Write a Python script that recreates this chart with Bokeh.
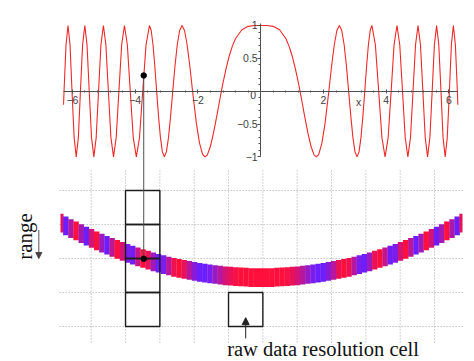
import numpy as np
from bokeh.plotting import figure
from bokeh.models import Range1d, LinearAxis, FixedTicker, ColumnDataSource, Arrow, NormalHead
from bokeh.transform import linear_cmap
from bokeh.core.properties import value
from bokeh.embed import file_html
from bokeh.resources import INLINE

# ---------------- data ----------------
# signal curve, left half (x < 0)
curve_left_x = [-6.283, -6.267, -6.204, -6.140, -6.076, -6.013, -5.945, -5.879, -5.811, -5.745,
                -5.675, -5.605, -5.535, -5.464, -5.391, -5.317, -5.243, -5.168, -5.091, -5.013,
                -4.934, -4.854, -4.773, -4.690, -4.605, -4.519, -4.431, -4.342, -4.250, -4.157,
                -4.061, -3.963, -3.863, -3.760, -3.654, -3.545, -3.489, -3.432, -3.375, -3.316,
                -3.256, -3.195, -3.133, -3.070, -3.005, -2.939, -2.872, -2.803, -2.732, -2.659,
                -2.584, -2.507, -2.427, -2.345, -2.259, -2.171, -2.05, -1.95, -1.85, -1.773,
                -1.7, -1.6, -1.5, -1.4, -1.3, -1.253, -1.2, -1.1, -1.0, -0.9,
                -0.8, -0.6, -0.4, -0.2]
curve_left_y = [-0.207, 0, 0.707, 1, 0.707, 0, -0.707, -1, -0.707, 0,
                0.707, 1, 0.707, 0, -0.707, -1, -0.707, 0, 0.707, 1,
                0.707, 0, -0.707, -1, -0.707, 0, 0.707, 1, 0.707, 0,
                -0.707, -1, -0.707, 0, 0.707, 1, 0.924, 0.707, 0.383, 0,
                -0.383, -0.707, -0.924, -1, -0.924, -0.707, -0.383, 0, 0.383, 0.707,
                0.924, 1, 0.924, 0.707, 0.383, 0, -0.490, -0.791, -0.962, -1,
                -0.969, -0.835, -0.628, -0.380, -0.119, 0, 0.130, 0.351, 0.540, 0.690,
                0.802, 0.936, 0.987, 0.999]
# signal curve, right half (x >= 0)
curve_right_x = [0, 0.2, 0.4, 0.6, 0.8, 0.9, 1.0, 1.1, 1.2, 1.253,
                 1.3, 1.4, 1.5, 1.6, 1.7, 1.773, 1.85, 1.95, 2.05, 2.171,
                 2.259, 2.345, 2.427, 2.507, 2.584, 2.659, 2.732, 2.803, 2.872, 2.939,
                 3.005, 3.070, 3.133, 3.195, 3.256, 3.316, 3.375, 3.432, 3.489, 3.545,
                 3.654, 3.760, 3.863, 3.963, 4.061, 4.157, 4.250, 4.342, 4.431, 4.519,
                 4.605, 4.690, 4.773, 4.854, 4.934, 5.013, 5.091, 5.168, 5.243, 5.317,
                 5.391, 5.464, 5.535, 5.605, 5.675, 5.745, 5.811, 5.879, 5.945, 6.013,
                 6.076, 6.140, 6.204, 6.267, 6.283]
curve_right_y = [1, 0.999, 0.987, 0.936, 0.802, 0.690, 0.540, 0.351, 0.130, 0,
                 -0.119, -0.380, -0.628, -0.835, -0.969, -1, -0.962, -0.791, -0.490, 0,
                 0.383, 0.707, 0.924, 1, 0.924, 0.707, 0.383, 0, -0.383, -0.707,
                 -0.924, -1, -0.924, -0.707, -0.383, 0, 0.383, 0.707, 0.924, 1,
                 0.707, 0, -0.707, -1, -0.707, 0, 0.707, 1, 0.707, 0,
                 -0.707, -1, -0.707, 0, 0.707, 1, 0.707, 0, -0.707, -1,
                 -0.707, 0, 0.707, 1, 0.707, 0, -0.707, -1, -0.707, 0,
                 0.707, 1, 0.707, 0, -0.207]

x_tick_values = [-6, -4, -2, 2, 4, 6]
y_tick_values = [-1, -0.5, 0.5, 1]
x_axis_label = "x"
origin_label = "0"

# the sample picked on the curve and its place in the range image
sample_x = [-3.728]
sample_y = [0.239]
sample_image_y = [-2.551]

# band of the target in the raw image (azimuth bins, range of band centre, phase colour)
band_u = [0.15, 0.26, 0.41, 0.56, 0.71, 0.86, 1.01, 1.16, 1.31, 1.46,
          1.61, 1.76, 1.91, 2.06, 2.21, 2.36, 2.51, 2.66, 2.81, 2.96,
          3.11, 3.26, 3.41, 3.56, 3.71, 3.86, 4.01, 4.16, 4.31, 4.46,
          4.61, 4.76, 4.91, 5.06, 5.21, 5.36, 5.51, 5.66, 5.81, 5.96,
          6.11, 6.26, 6.41, 6.56, 6.71, 6.86, 7.01, 7.16, 7.31, 7.46,
          7.61, 7.76, 7.91, 8.06, 8.21, 8.36, 8.51, 8.66, 8.81, 8.96,
          9.11, 9.26, 9.41, 9.56, 9.71, 9.86, 10.01, 10.16, 10.31, 10.46,
          10.61, 10.76, 10.91, 11.06, 11.21, 11.36, 11.51, 11.66, 11.77]
band_range = [0.96, 1.04, 1.12, 1.19, 1.27, 1.34, 1.41, 1.48, 1.55, 1.61,
              1.67, 1.73, 1.79, 1.85, 1.90, 1.95, 2.00, 2.05, 2.10, 2.14,
              2.18, 2.22, 2.26, 2.29, 2.32, 2.35, 2.38, 2.41, 2.43, 2.45,
              2.47, 2.49, 2.51, 2.52, 2.53, 2.54, 2.55, 2.56, 2.56, 2.56,
              2.56, 2.56, 2.55, 2.54, 2.53, 2.52, 2.51, 2.49, 2.47, 2.45,
              2.43, 2.41, 2.38, 2.35, 2.32, 2.29, 2.26, 2.22, 2.18, 2.14,
              2.10, 2.05, 2.00, 1.95, 1.90, 1.85, 1.79, 1.73, 1.67, 1.61,
              1.55, 1.48, 1.41, 1.34, 1.27, 1.19, 1.12, 1.04, 0.96]
band_phase = [0.62, -0.93, -0.13, 1.0, -0.21, -0.95, 0.35, 0.94, -0.31, -0.98,
              0.08, 0.99, 0.35, -0.8, -0.83, 0.2, 0.97, 0.65, -0.32, -0.97,
              -0.77, 0.02, 0.76, 1.0, 0.67, 0.03, -0.58, -0.94, -0.98, -0.75,
              -0.38, 0.02, 0.38, 0.64, 0.82, 0.93, 0.98, 0.99, 1.0, 1.0,
              1.0, 0.99, 0.98, 0.93, 0.82, 0.64, 0.38, 0.02, -0.38, -0.75,
              -0.98, -0.94, -0.58, 0.03, 0.67, 1.0, 0.76, 0.02, -0.77, -0.97,
              -0.32, 0.65, 0.97, 0.2, -0.83, -0.8, 0.35, 0.99, 0.08, -0.98,
              -0.31, 0.94, 0.35, -0.95, -0.21, 1.0, -0.13, -0.93, 0.62]

grid_u = [1, 2, 3, 4, 5, 6, 7, 8, 9, 10, 11]
grid_v = [0, 1, 2, 3, 4]

cell_u = [2, 2, 2, 2, 5]
cell_v = [0, 1, 2, 3, 3]

range_label = "range"
cell_label = "raw data resolution cell"

# ---------------- figure ----------------
p = figure(width=474, height=361, output_backend="svg", toolbar_location=None,
           x_axis_type=None, y_axis_type=None, min_border=0,
           x_range=Range1d(-1.642, 12.165), y_range=Range1d(5.029, -5.588))
p.outline_line_color = None
p.background_fill_color = "white"
p.border_fill_color = "white"
p.extra_x_ranges = {"cx": Range1d(-8.292, 6.813)}
p.extra_y_ranges = {"cy": Range1d(-4.1142, 1.3805)}

# dotted grid of the raw image
n_u = len(grid_u)
n_v = len(grid_v)
p.segment(x0=grid_u, y0=[-0.59] * n_u, x1=grid_u, y1=[4.5] * n_u,
          line_color="#a8a8a8", line_dash="1 2", line_width=1)
p.segment(x0=[0.08] * n_v, y0=grid_v, x1=[11.85] * n_v, y1=grid_v,
          line_color="#a8a8a8", line_dash="1 2", line_width=1)

# band
blue = (108, 30, 255)
red = (255, 16, 60)
palette = ["#%02x%02x%02x" % tuple(int(round(b + (r - b) * i / 20)) for b, r in zip(blue, red))
           for i in range(21)]
band_widths = [0.09] + [0.158] * (len(band_u) - 2) + [0.09]
band_src = ColumnDataSource(dict(u=band_u, v=band_range, c=band_phase, w=band_widths))
p.rect(x="u", y="v", width="w", height=0.55, source=band_src,
       fill_color=linear_cmap("c", palette, -1, 1), line_color=None)

# resolution cells
p.quad(left=cell_u, right=[u + 1 for u in cell_u], top=cell_v, bottom=[v + 1 for v in cell_v],
       fill_color=None, line_color="#1c1c1c", line_width=1.4)

# signal curve with axes
p.line(curve_left_x + curve_right_x, curve_left_y + curve_right_y,
       x_range_name="cx", y_range_name="cy", line_color="#f02828", line_width=1.1)

minor_x = [round(v, 1) for v in np.arange(-6.0, 6.01, 0.4)]
minor_y = [round(v, 1) for v in np.arange(-1.0, 1.01, 0.1)]
xa = LinearAxis(x_range_name="cx", y_range_name="cy", fixed_location=0, bounds=(-6.283, 6.283),
                ticker=FixedTicker(ticks=x_tick_values, minor_ticks=minor_x))
ya = LinearAxis(x_range_name="cx", y_range_name="cy", fixed_location=0, bounds=(-1.0, 1.03),
                ticker=FixedTicker(ticks=y_tick_values, minor_ticks=minor_y))
for ax in (xa, ya):
    ax.axis_line_color = "#505050"
    ax.major_tick_line_color = "#505050"
    ax.minor_tick_line_color = "#505050"
    ax.major_label_text_font = "Liberation Sans"
    ax.major_label_text_font_size = "10.5px"
    ax.major_label_text_color = "#404040"
xa.major_tick_in = 2
xa.major_tick_out = 2
xa.minor_tick_in = 1
xa.minor_tick_out = 1
xa.major_label_standoff = 3
ya.major_tick_in = 0
ya.major_tick_out = 3
ya.minor_tick_in = 0
ya.minor_tick_out = 2
ya.major_label_standoff = 0
p.add_layout(xa, "below")
p.add_layout(ya, "left")

p.text(x=[-0.15], y=[-0.065], text=[origin_label], x_range_name="cx", y_range_name="cy",
       text_align="right", text_baseline="middle", text_font=value("Liberation Sans"),
       text_font_size="10.5px", text_color="#404040")
p.text(x=[3.117], y=[-0.167], text=[x_axis_label], x_range_name="cx", y_range_name="cy",
       text_align="center", text_baseline="middle", text_font=value("Liberation Sans"),
       text_font_size="10.5px", text_color="#404040")

# link from the curve sample down to the image cell
p.segment(x0=sample_x, y0=sample_y, x1=sample_x, y1=sample_image_y,
          x_range_name="cx", y_range_name="cy", line_color="#505050", line_width=1)
p.scatter(sample_x * 2, sample_y + sample_image_y, x_range_name="cx", y_range_name="cy",
          size=5.5, fill_color="black", line_color="black")

# arrows
p.add_layout(Arrow(end=NormalHead(size=7, fill_color="#222222", line_color="#222222"),
                   x_start=5.5, y_start=4.35, x_end=5.5, y_end=3.74,
                   line_color="#222222", line_width=1))
p.add_layout(Arrow(end=NormalHead(size=6, fill_color="#444444", line_color="#444444"),
                   x_start=-0.526, y_start=1.16, x_end=-0.526, y_end=2.0,
                   line_color="#555555", line_width=1))

# labels
p.text(x=[4.96], y=[4.67], text=[cell_label], text_align="left", text_baseline="alphabetic",
       text_font=value("Liberation Serif"), text_font_size="20.5px", text_color="#111111")
p.text(x=[-0.928], y=[1.353], text=[range_label], angle=np.pi / 2, text_align="center",
       text_baseline="alphabetic", text_font=value("Liberation Serif"), text_font_size="21px",
       text_color="#111111")

open("out.html", "w").write(file_html(p, INLINE))
